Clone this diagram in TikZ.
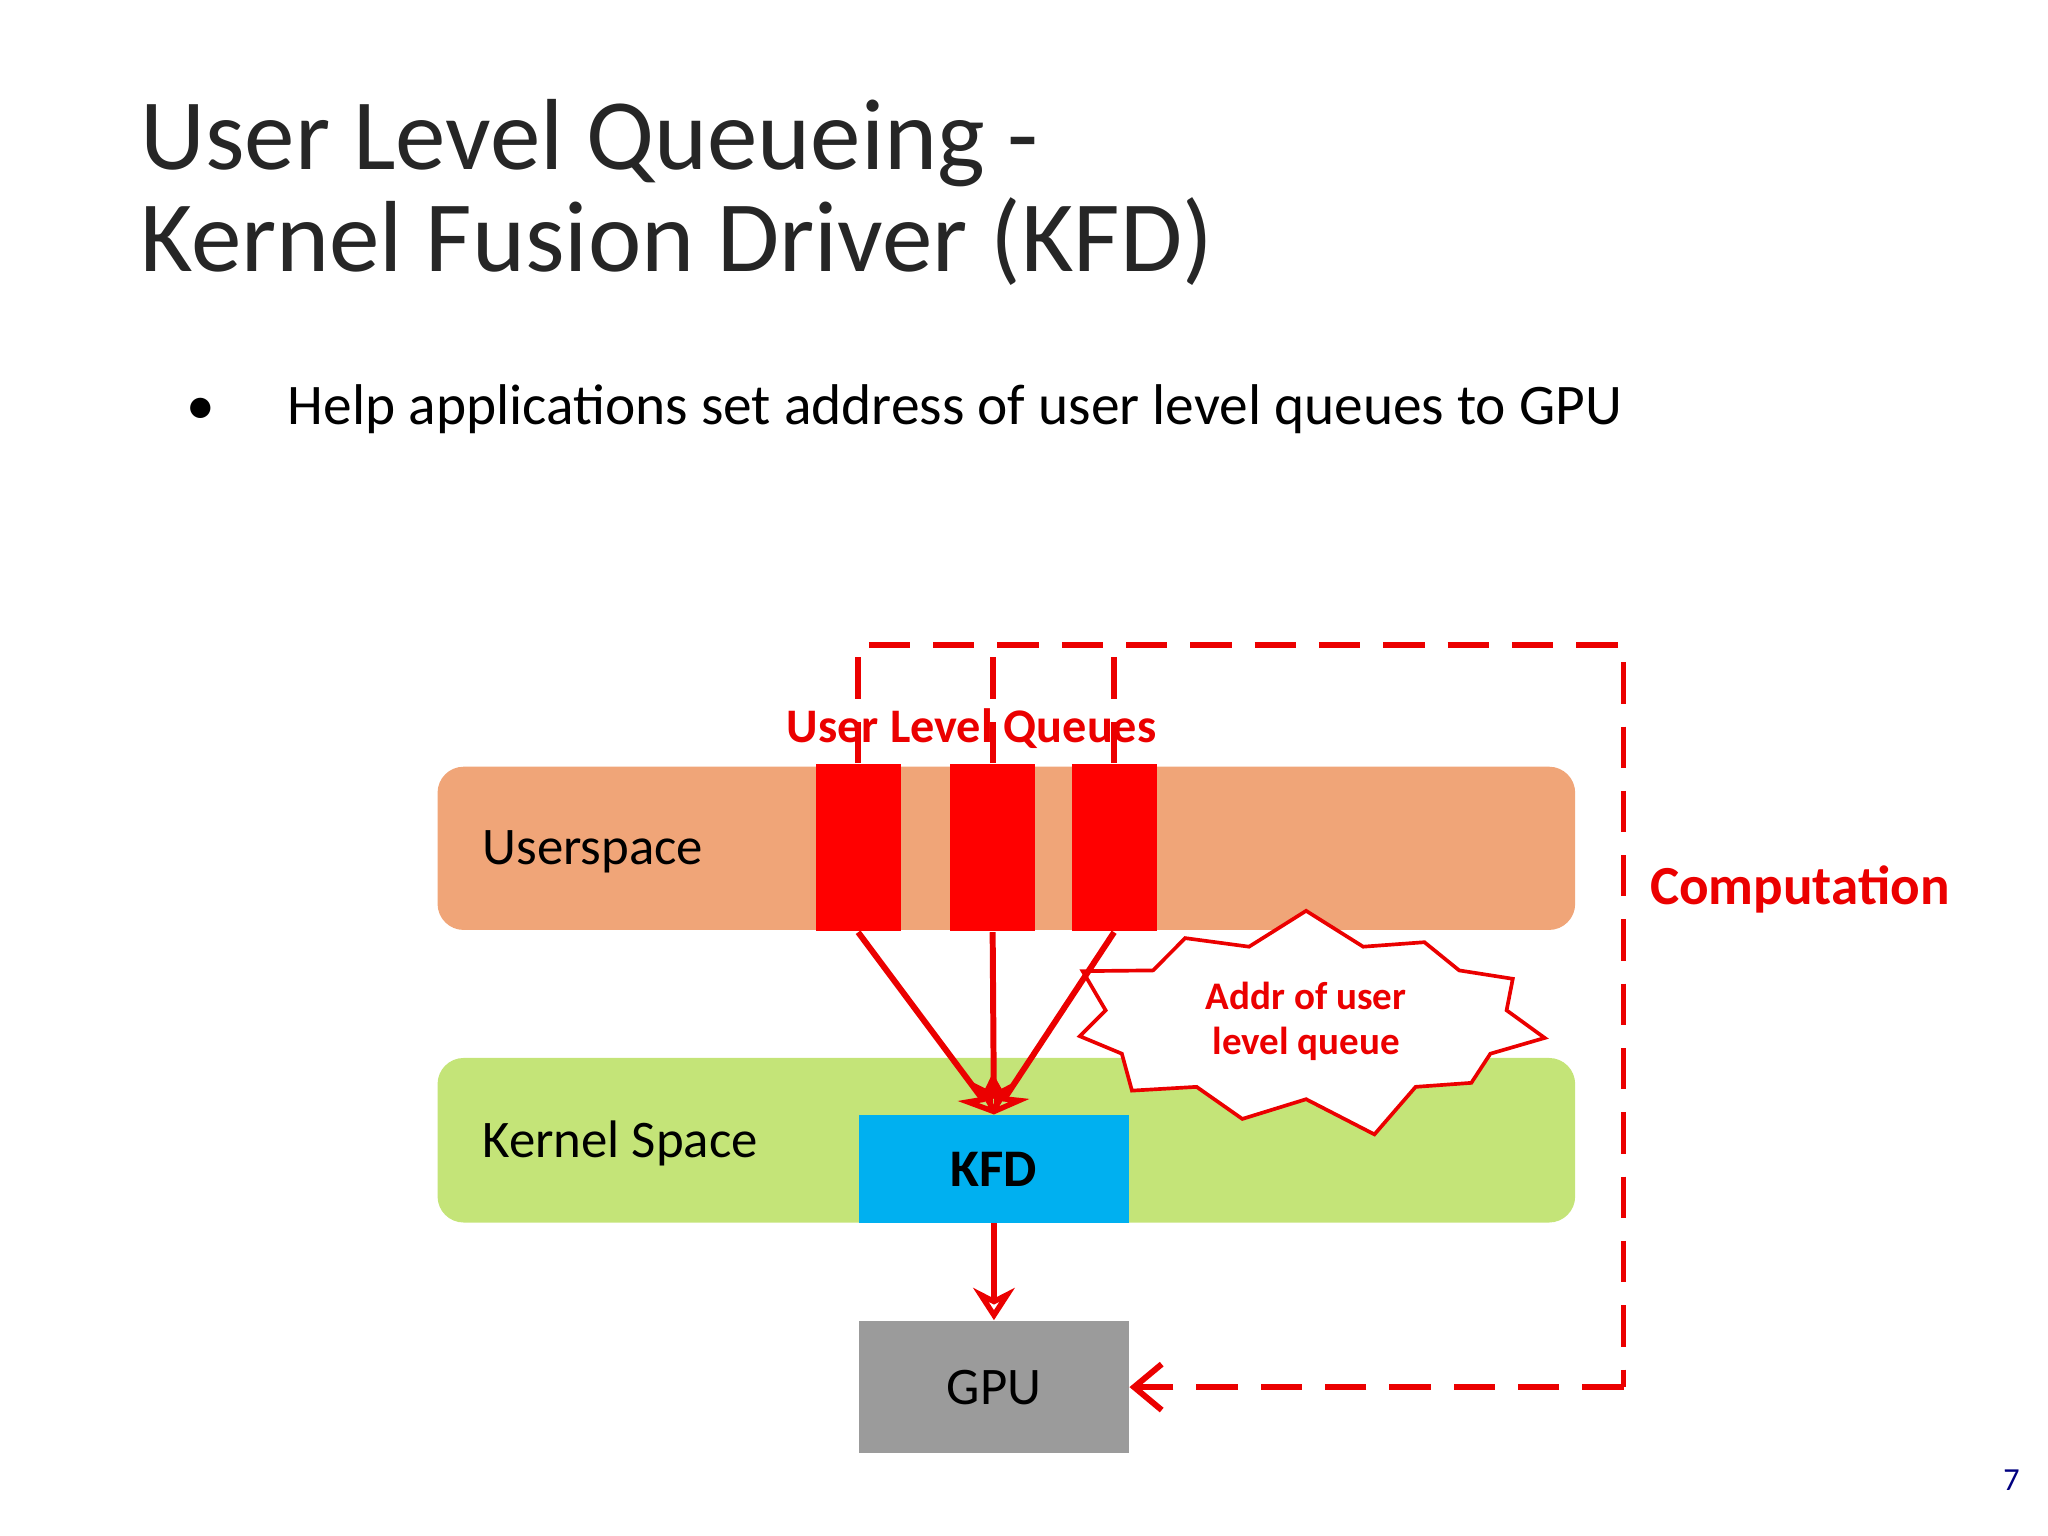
\documentclass[tikz,border=0pt]{standalone}
\usepackage{fontspec}
\setmainfont{Carlito}
\usetikzlibrary{shapes.symbols,arrows.meta}
\definecolor{rd}{RGB}{235,0,0}
\definecolor{org}{RGB}{240,165,120}
\definecolor{grn}{RGB}{196,228,120}
\definecolor{kfd}{RGB}{0,176,240}
\definecolor{gp}{RGB}{155,155,155}
\begin{document}
\begin{tikzpicture}[x=0.01cm,y=-0.01cm,
  q/.style={fill=red,draw=none},
  con/.style={draw=rd,line width=1.3pt,-{Stealth[open,length=7pt,width=9pt]}},
  rdash/.style={draw=rd,line width=1.3pt,dash pattern=on 9pt off 5pt}]
\useasboundingbox (0,0) rectangle (1568,1176);
\node[anchor=base west,font=\fontsize{22}{26}\selectfont,text=black!85] (t1) at (95,130) {User Level Queueing -};
\node[anchor=base west,font=\fontsize{22}{26}\selectfont,text=black!85] (t2) at (95,208) {Kernel Fusion Driver (KFD)};
\node[anchor=base west,font=\fontsize{12.5}{15}\selectfont] (b) at (130,325) {•};
\node[anchor=base west,font=\fontsize{12.5}{15}\selectfont] (bt) at (208,325) {Help applications set address of user level queues to GPU};
\fill[org,rounded corners=0.2cm] (335,587) rectangle (1206,712);
\fill[grn,rounded corners=0.2cm] (335,810) rectangle (1206,936);
\node[anchor=base west,font=\fontsize{11.5}{14}\selectfont] (us) at (357,662) {Userspace};
\node[anchor=base west,font=\fontsize{11.5}{14}\selectfont] (ks) at (357,886) {Kernel Space};
\node[q,minimum width=0.65cm,minimum height=1.28cm,inner sep=0] (q1) at (657,649) {};
\node[q,minimum width=0.65cm,minimum height=1.28cm,inner sep=0] (q2) at (760,649) {};
\node[q,minimum width=0.65cm,minimum height=1.28cm,inner sep=0] (q3) at (853,649) {};
\node[fill=kfd,minimum width=2.06cm,minimum height=0.82cm,inner sep=0,font=\bfseries\fontsize{11.5}{14}\selectfont] (kfd) at (761,895) {KFD};
\node[fill=gp,minimum width=2.06cm,minimum height=1.01cm,inner sep=0,font=\fontsize{11.5}{14}\selectfont] (gpu) at (761,1062) {GPU};
\node[starburst,starburst points=11,starburst point height=0.35cm,draw=rd,fill=white,line width=0.8pt,minimum width=3.8cm,minimum height=1.25cm,align=center,text=rd,font=\bfseries\fontsize{8.5}{10}\selectfont] (sb) at (1000,782) {Addr of user\\level queue};
\node[text=rd,font=\bfseries\fontsize{10.5}{12}\selectfont] (ulq) at (744,558) {User Level Queues};
\node[text=rd,font=\bfseries\fontsize{12}{14}\selectfont] (comp) at (1378,681) {Computation};
\node[text=blue!50!black,font=\fontsize{7}{8}\selectfont] (pg) at (1540,1133) {7};
\coordinate (c1) at (657,494); \coordinate (c2) at (760,494); \coordinate (c3) at (853,494);
\coordinate (cr) at (1243,494); \coordinate (cb) at (1243,1062);
\draw[rdash] (q1.north) -- (c1) -- (cr) -- (cb);
\draw[rdash] (q2.north) -- (c2);
\draw[rdash] (q3.north) -- (c3);
\draw[rdash,-{Straight Barb[length=6pt,width=10pt]}] (cb) -- (gpu.east);
\draw[con] (q1.south) -- (kfd.north);
\draw[con] (q2.south) -- (kfd.north);
\draw[con] (q3.south) -- (kfd.north);
\draw[con] (kfd.south) -- (gpu.north);
\end{tikzpicture}
\end{document}
